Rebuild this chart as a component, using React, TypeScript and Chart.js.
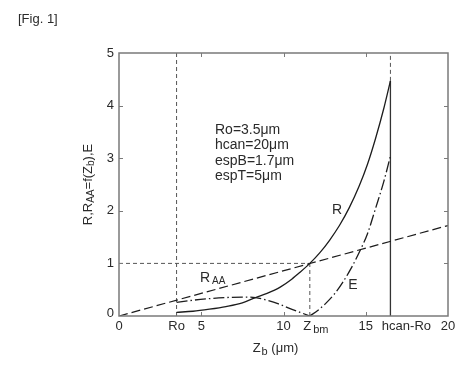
import { useEffect, useRef } from 'react';
import { Chart, registerables } from 'chart.js';

Chart.register(...registerables);

// ---- data ----
const rX = [3.5, 4.5, 5.5, 6.5, 7.5, 8.3, 9.0, 9.8, 10.5, 11.0, 11.6, 12.2, 12.8, 13.4, 14.0, 14.6, 15.1, 15.6, 16.1, 16.5];
const rY = [0.07, 0.09, 0.13, 0.18, 0.25, 0.35, 0.43, 0.55, 0.7, 0.83, 1.0, 1.2, 1.44, 1.72, 2.06, 2.47, 2.88, 3.38, 3.95, 4.47];

const eLeftX = [3.5, 4.5, 5.5, 6.5, 7.5, 8.3, 9.0, 9.7, 10.4, 11.0, 11.6];
const eLeftY = [0.26, 0.3, 0.33, 0.35, 0.36, 0.35, 0.3, 0.23, 0.14, 0.07, 0.0];

const eRightX = [11.6, 12.1, 12.6, 13.1, 13.6, 14.1, 14.65, 15.1, 15.6, 16.1, 16.5];
const eRightY = [0.0, 0.11, 0.25, 0.42, 0.64, 0.9, 1.24, 1.56, 2.05, 2.56, 3.04];

const raaX = [0, 20];
const raaY = [0, 1.72];

const roValue = 3.5;
const zbmValue = 11.6;
const hcanRoValue = 16.5;
const hcanRoTop = 4.47;

const xMin = 0;
const xMax = 20;
const yMin = 0;
const yMax = 5;

const xTickValues = [0, 3.5, 5, 10, 11.6, 15, 16.5, 20];
const xTickLabels = ['0', 'Ro', '5', '10', 'Z_bm', '15', 'hcan-Ro', '20'];
const xTickMarks = [5, 10, 15];
const yTickValues = [0, 1, 2, 3, 4, 5];
const yTickLabels = ['0', '1', '2', '3', '4', '5'];

const paramLines = ['Ro=3.5\u03bcm', 'hcan=20\u03bcm', 'espB=1.7\u03bcm', 'espT=5\u03bcm'];

const FONT = '"Liberation Sans", Arial, Helvetica, sans-serif';
const TEXT = '#2a2a2a';

type Part = { t: string; sub?: boolean };

function parseParts(s: string): Part[] {
  const idx = s.indexOf('_');
  if (idx < 0) return [{ t: s }];
  return [{ t: s.slice(0, idx) }, { t: s.slice(idx + 1), sub: true }];
}

function drawParts(
  ctx: CanvasRenderingContext2D,
  parts: Part[],
  x: number,
  y: number,
  align: 'left' | 'center' | 'right',
  size = 13,
  subSize = 10,
  gap = 1
) {
  const widths = parts.map((p) => {
    ctx.font = `${p.sub ? subSize : size}px ${FONT}`;
    return ctx.measureText(p.t).width + (p.sub ? gap : 0);
  });
  const total = widths.reduce((a, b) => a + b, 0);
  let cx = align === 'center' ? x - total / 2 : align === 'right' ? x - total : x;
  ctx.textAlign = 'left';
  ctx.textBaseline = 'middle';
  parts.forEach((p, i) => {
    ctx.font = `${p.sub ? subSize : size}px ${FONT}`;
    ctx.fillText(p.t, cx + (p.sub ? gap : 0), y + (p.sub ? 3.5 : 0));
    cx += widths[i];
  });
}

const toPts = (xs: number[], ys: number[]) => xs.map((x, i) => ({ x, y: ys[i] }));

const decorPlugin = {
  id: 'decor',
  afterDatasetsDraw(chart: any) {
    const ctx: CanvasRenderingContext2D = chart.ctx;
    const xs = chart.scales.x;
    const ys = chart.scales.y;
    const { left, right, top, bottom } = chart.chartArea;
    ctx.save();

    // frame
    ctx.strokeStyle = '#7a7a7a';
    ctx.lineWidth = 1.5;
    ctx.setLineDash([]);
    ctx.strokeRect(left, top, right - left, bottom - top);

    // inward tick marks
    ctx.lineWidth = 1;
    ctx.beginPath();
    xTickMarks.forEach((v) => {
      const px = Math.round(xs.getPixelForValue(v)) + 0.5;
      ctx.moveTo(px, bottom);
      ctx.lineTo(px, bottom - 4);
      ctx.moveTo(px, top);
      ctx.lineTo(px, top + 4);
    });
    yTickValues.slice(1, -1).forEach((v) => {
      const py = Math.round(ys.getPixelForValue(v)) + 0.5;
      ctx.moveTo(left, py);
      ctx.lineTo(left + 4, py);
      ctx.moveTo(right, py);
      ctx.lineTo(right - 4, py);
    });
    ctx.stroke();

    ctx.fillStyle = TEXT;
    // x tick labels
    const dxMap: Record<string, number> = { 'Z_bm': 6, 'hcan-Ro': 16 };
    xTickValues.forEach((v, i) => {
      const lab = xTickLabels[i];
      const px = xs.getPixelForValue(v) + (dxMap[lab] || 0);
      drawParts(ctx, parseParts(lab), px, bottom + 10, 'center', 13, 11, 2);
    });
    // y tick labels
    yTickValues.forEach((v, i) => {
      const py = ys.getPixelForValue(v) - (v === 0 ? 3 : 0);
      drawParts(ctx, [{ t: yTickLabels[i] }], left - 5, py, 'right', 13);
    });

    // x axis title
    drawParts(ctx, [{ t: 'Z' }, { t: 'b', sub: true }, { t: ' (\u03bcm)' }], (left + right) / 2 - 8, bottom + 32, 'center', 13, 11, 1);

    // y axis title (rotated)
    ctx.save();
    ctx.translate(left - 31, (top + bottom) / 2);
    ctx.rotate(-Math.PI / 2);
    drawParts(
      ctx,
      [{ t: 'R,R' }, { t: 'AA', sub: true }, { t: '=f(Z' }, { t: 'b', sub: true }, { t: '),E' }],
      0,
      0,
      'center',
      13,
      10,
      0
    );
    ctx.restore();

    // parameter block
    paramLines.forEach((s, i) => {
      drawParts(ctx, [{ t: s }], 215, 130 + i * 15.5, 'left', 14);
    });

    // curve labels
    drawParts(ctx, [{ t: 'R' }], 337, 210, 'center', 14);
    drawParts(ctx, [{ t: 'E' }], 353, 285, 'center', 14);
    drawParts(ctx, [{ t: 'R' }, { t: 'AA', sub: true }], 200, 278, 'left', 14, 10, 2);

    // figure label
    drawParts(ctx, [{ t: '[Fig. 1]' }], 18, 19, 'left', 13);

    ctx.restore();
  },
};

export default function App() {
  const ref = useRef<HTMLCanvasElement | null>(null);

  useEffect(() => {
    if (!ref.current) return;
    const dark = '#1c1c1c';
    const refc = '#555555';
    const chart = new Chart(ref.current, {
      type: 'scatter',
      data: {
        datasets: [
          {
            label: 'R',
            data: toPts(rX, rY),
            showLine: true,
            borderColor: dark,
            borderWidth: 1.3,
            pointRadius: 0,
            cubicInterpolationMode: 'monotone',
          },
          {
            label: 'E1',
            data: toPts(eLeftX, eLeftY),
            showLine: true,
            borderColor: dark,
            borderWidth: 1.3,
            borderDash: [11, 3, 1.5, 3],
            pointRadius: 0,
            cubicInterpolationMode: 'monotone',
          },
          {
            label: 'E2',
            data: toPts(eRightX, eRightY),
            showLine: true,
            borderColor: dark,
            borderWidth: 1.3,
            borderDash: [11, 3, 1.5, 3],
            pointRadius: 0,
            cubicInterpolationMode: 'monotone',
          },
          {
            label: 'RAA',
            data: toPts(raaX, raaY),
            showLine: true,
            borderColor: dark,
            borderWidth: 1.2,
            borderDash: [9, 4],
            pointRadius: 0,
          },
          {
            label: 'Ro',
            data: [
              { x: roValue, y: yMin },
              { x: roValue, y: yMax },
            ],
            showLine: true,
            borderColor: refc,
            borderWidth: 1,
            borderDash: [4, 3],
            pointRadius: 0,
          },
          {
            label: 'one',
            data: [
              { x: xMin, y: 1 },
              { x: zbmValue, y: 1 },
            ],
            showLine: true,
            borderColor: refc,
            borderWidth: 1,
            borderDash: [4, 3],
            pointRadius: 0,
          },
          {
            label: 'zbm',
            data: [
              { x: zbmValue, y: yMin },
              { x: zbmValue, y: 1 },
            ],
            showLine: true,
            borderColor: refc,
            borderWidth: 1,
            borderDash: [4, 3],
            pointRadius: 0,
          },
          {
            label: 'hcanTop',
            data: [
              { x: hcanRoValue, y: hcanRoTop },
              { x: hcanRoValue, y: yMax },
            ],
            showLine: true,
            borderColor: refc,
            borderWidth: 1,
            borderDash: [4, 3],
            pointRadius: 0,
          },
          {
            label: 'hcan',
            data: [
              { x: hcanRoValue, y: yMin },
              { x: hcanRoValue, y: hcanRoTop },
            ],
            showLine: true,
            borderColor: '#333333',
            borderWidth: 1.3,
            pointRadius: 0,
          },
        ],
      },
      options: {
        animation: false,
        responsive: false,
        devicePixelRatio: 1,
        layout: { padding: { left: 119, right: 26, top: 53, bottom: 51 } },
        plugins: { legend: { display: false }, tooltip: { enabled: false } },
        scales: {
          x: { type: 'linear', min: xMin, max: xMax, display: false },
          y: { type: 'linear', min: yMin, max: yMax, display: false },
        },
      },
      plugins: [decorPlugin],
    } as any);
    return () => chart.destroy();
  }, []);

  return (
    <div style={{ position: 'absolute', left: 0, top: 0, width: 474, height: 367, background: '#fff' }}>
      <canvas ref={ref} width={474} height={367} style={{ display: 'block' }} />
    </div>
  );
}
